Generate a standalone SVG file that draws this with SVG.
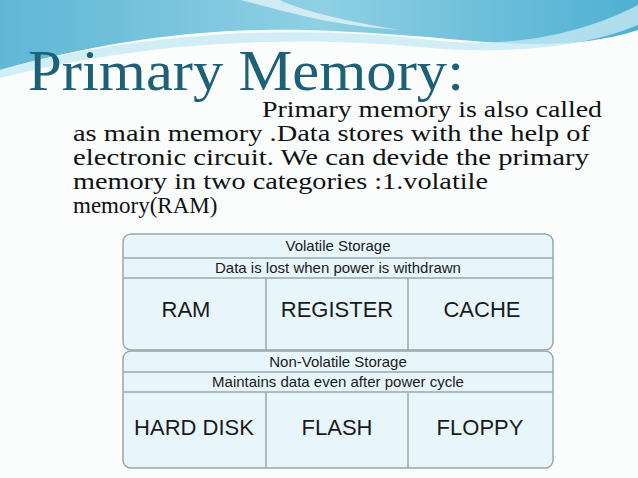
<svg xmlns="http://www.w3.org/2000/svg" width="638" height="478" viewBox="0 0 638 478">
<defs>
<linearGradient id="wave" x1="0" y1="0" x2="1" y2="0"><stop offset="0" stop-color="#5fb7d6"/><stop offset="0.5" stop-color="#8fd0e4"/><stop offset="1" stop-color="#4fb0d2"/></linearGradient>
<style>
.body{font-family:"Liberation Serif",serif;font-size:23px;fill:#111}
.cell{fill:#e8f6fb;stroke:#9aa6ab;stroke-width:1.5}
.hd{font-family:"Liberation Sans",Arial,sans-serif;font-size:15px;fill:#1a1a1a;text-anchor:middle}
.big{font-family:"Liberation Sans",Arial,sans-serif;font-size:22px;fill:#1a1a1a;text-anchor:middle}
</style>
</defs>
<rect width="638" height="478" fill="#fbfdfd"/>
<g id="header">
<path d="M0 0 H638 V30 C560 55 480 40 400 35 C300 28 180 20 0 70 Z" fill="url(#wave)"/>
<path d="M0 70 C150 30 300 25 430 40 C520 50 590 30 638 5 V25 C590 45 520 55 430 48 C300 35 150 40 0 78 Z" fill="#c7e9f2" opacity="0.8"/>
<path d="M240 0 C300 15 330 25 400 30 C340 20 300 10 280 0 Z" fill="#ffffff" opacity="0.6"/>
</g>
<text x="28" y="90" font-family="Liberation Serif,serif" font-size="56" fill="#1d6077" textLength="436" lengthAdjust="spacingAndGlyphs">Primary Memory:</text>
<g id="paragraph" class="body">
<text x="262" y="117" textLength="340" lengthAdjust="spacingAndGlyphs">Primary memory is also called</text>
<text x="73" y="141" textLength="517" lengthAdjust="spacingAndGlyphs">as main memory .Data stores with the help of</text>
<text x="73" y="165" textLength="516" lengthAdjust="spacingAndGlyphs">electronic circuit. We can devide the primary</text>
<text x="73" y="189" textLength="415" lengthAdjust="spacingAndGlyphs">memory  in two categories :1.volatile</text>
<text x="73" y="213">memory(RAM)</text>
</g>
<g id="volatile">
<rect class="cell" x="123" y="234" width="430" height="116" rx="8"/>
<line x1="123" y1="258" x2="553" y2="258" stroke="#9aa6ab" stroke-width="1.5"/>
<line x1="123" y1="278" x2="553" y2="278" stroke="#9aa6ab" stroke-width="1.5"/>
<line x1="266" y1="278" x2="266" y2="350" stroke="#9aa6ab" stroke-width="1.5"/>
<line x1="408" y1="278" x2="408" y2="350" stroke="#9aa6ab" stroke-width="1.5"/>
<text class="hd" x="338" y="251">Volatile Storage</text>
<text class="hd" x="338" y="273" font-size="13.5">Data is lost when power is withdrawn</text>
<text class="big" x="186" y="317">RAM</text>
<text class="big" x="337" y="317">REGISTER</text>
<text class="big" x="482" y="317">CACHE</text>
</g>
<g id="nonvolatile">
<rect class="cell" x="123" y="351" width="430" height="117" rx="8"/>
<line x1="123" y1="372" x2="553" y2="372" stroke="#9aa6ab" stroke-width="1.5"/>
<line x1="123" y1="392" x2="553" y2="392" stroke="#9aa6ab" stroke-width="1.5"/>
<line x1="266" y1="392" x2="266" y2="468" stroke="#9aa6ab" stroke-width="1.5"/>
<line x1="408" y1="392" x2="408" y2="468" stroke="#9aa6ab" stroke-width="1.5"/>
<text class="hd" x="338" y="367">Non-Volatile Storage</text>
<text class="hd" x="338" y="387" font-size="13.5">Maintains data even after power cycle</text>
<text class="big" x="194" y="435" font-size="20">HARD DISK</text>
<text class="big" x="337" y="435" font-size="20">FLASH</text>
<text class="big" x="480" y="435" font-size="20">FLOPPY</text>
</g>
<g id="connectors"/>
</svg>
